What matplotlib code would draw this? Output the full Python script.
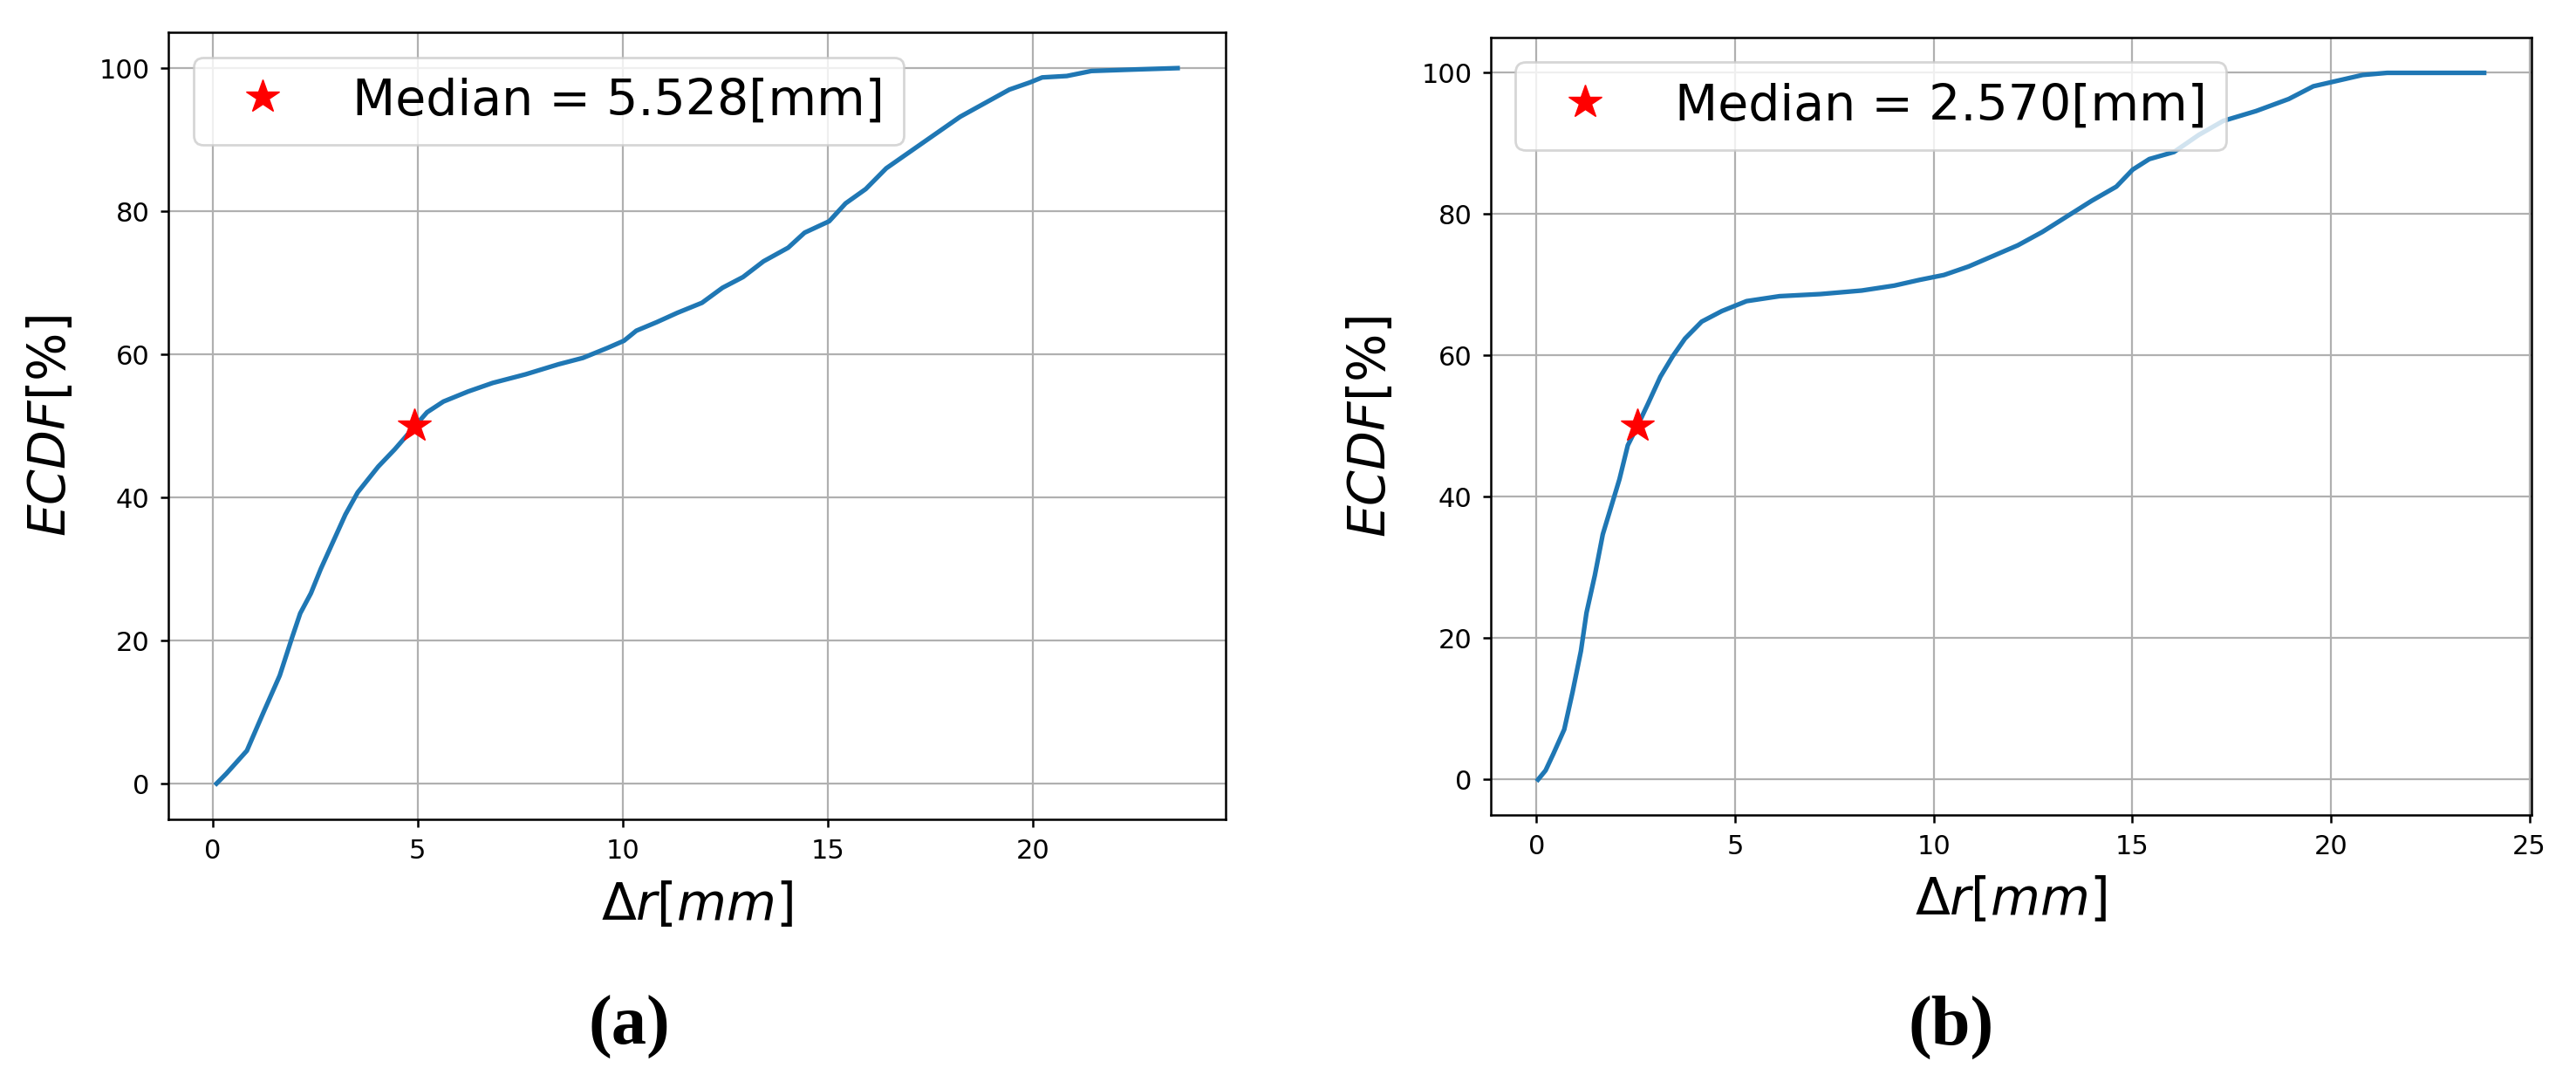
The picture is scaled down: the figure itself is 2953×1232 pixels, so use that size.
import numpy as np
import matplotlib.pyplot as plt

# ECDF (a)
dr_a = [0.10, 0.34, 0.84, 1.24, 1.64, 1.94, 2.14, 2.40, 2.64, 2.94, 3.24, 3.54,
        4.04, 4.44, 4.94, 5.23, 5.63, 6.23, 6.83, 7.63, 8.43, 9.03, 9.63, 10.03,
        10.33, 10.83, 11.33, 11.93, 12.43, 12.93, 13.43, 14.03, 14.43, 15.03,
        15.43, 15.92, 16.42, 17.02, 17.62, 18.22, 18.82, 19.42, 19.92, 20.22,
        20.82, 21.42, 22.42, 23.52]
ecdf_a = [0.0, 1.4, 4.6, 9.9, 15.1, 20.4, 23.8, 26.6, 30.0, 33.8, 37.6, 40.7,
          44.3, 46.7, 50.0, 51.9, 53.4, 54.8, 56.0, 57.2, 58.6, 59.5, 60.9, 61.9,
          63.3, 64.5, 65.8, 67.2, 69.3, 70.8, 73.0, 74.9, 77.0, 78.6,
          81.1, 83.1, 86.0, 88.4, 90.8, 93.2, 95.1, 97.0, 98.0, 98.7,
          98.9, 99.6, 99.8, 100.0]

# ECDF (b)
dr_b = [0.04, 0.23, 0.43, 0.70, 0.91, 1.12, 1.26, 1.47, 1.67, 1.88, 2.09, 2.30,
        2.54, 2.81, 3.12, 3.43, 3.74, 4.16, 4.67, 5.29, 6.12, 7.15, 8.19, 9.01,
        9.64, 10.26, 10.88, 11.50, 12.12, 12.74, 13.36, 13.98, 14.60, 15.01,
        15.43, 16.05, 16.67, 17.29, 18.12, 18.94, 19.56, 20.18, 20.80, 21.42,
        22.66, 23.86]
ecdf_b = [0.0, 1.3, 3.7, 7.1, 12.4, 18.2, 23.6, 28.9, 34.7, 38.6, 42.5, 47.3,
          50.0, 53.2, 57.0, 59.9, 62.4, 64.8, 66.3, 67.7, 68.4, 68.7, 69.2, 69.9,
          70.7, 71.4, 72.6, 74.1, 75.6, 77.5, 79.7, 81.9, 83.9, 86.3,
          87.8, 88.8, 91.2, 93.2, 94.6, 96.3, 98.1, 98.9, 99.7, 100.0,
          100.0, 100.0]

# posicion de la estrella y texto de la leyenda
star_a = (4.93, 50.0)
star_b = (2.54, 50.0)
labels = ["Median = 5.528[mm]", "Median = 2.570[mm]"]
captions = ["(a)", "(b)"]

fig = plt.figure(figsize=(29.53, 12.32), dpi=100)
ax1 = fig.add_axes([0.0654, 0.2378, 0.4104, 0.7321])
ax2 = fig.add_axes([0.5787, 0.2419, 0.4040, 0.7232])

paneles = [(ax1, dr_a, ecdf_a, star_a, labels[0], -0.0875),
           (ax2, dr_b, ecdf_b, star_b, labels[1], -0.0914)]

for ax, x, y, star, lab, ypos in paneles:
    ax.plot(x, y, color='#1f77b4', lw=3.8)
    ax.plot([star[0]], [star[1]], '*', color='red', ms=29, label=lab)
    ax.grid(True, color='#b0b0b0', lw=1.6)
    for s in ax.spines.values():
        s.set_linewidth(1.8)
    ax.tick_params(labelsize=22, length=6.5, width=1.8, pad=9)
    ax.set_xlabel(r'$\Delta r[mm]$', fontsize=42)
    ax.set_ylabel(r'$ECDF[\%]$', fontsize=42)
    ax.yaxis.set_label_coords(ypos, 0.5)
    ax.xaxis.set_label_coords(0.5, -0.078)
    leg = ax.legend(loc='upper left', fontsize=41)
    leg.get_frame().set_linewidth(2)

fig.text(721 / 2953, 1 - 1177 / 1232, captions[0], ha='center', va='center',
         fontsize=58, fontweight='bold', family='Liberation Serif')
fig.text(2237 / 2953, 1 - 1177 / 1232, captions[1], ha='center', va='center',
         fontsize=58, fontweight='bold', family='Liberation Serif')

fig.savefig('out.png', dpi=100)
